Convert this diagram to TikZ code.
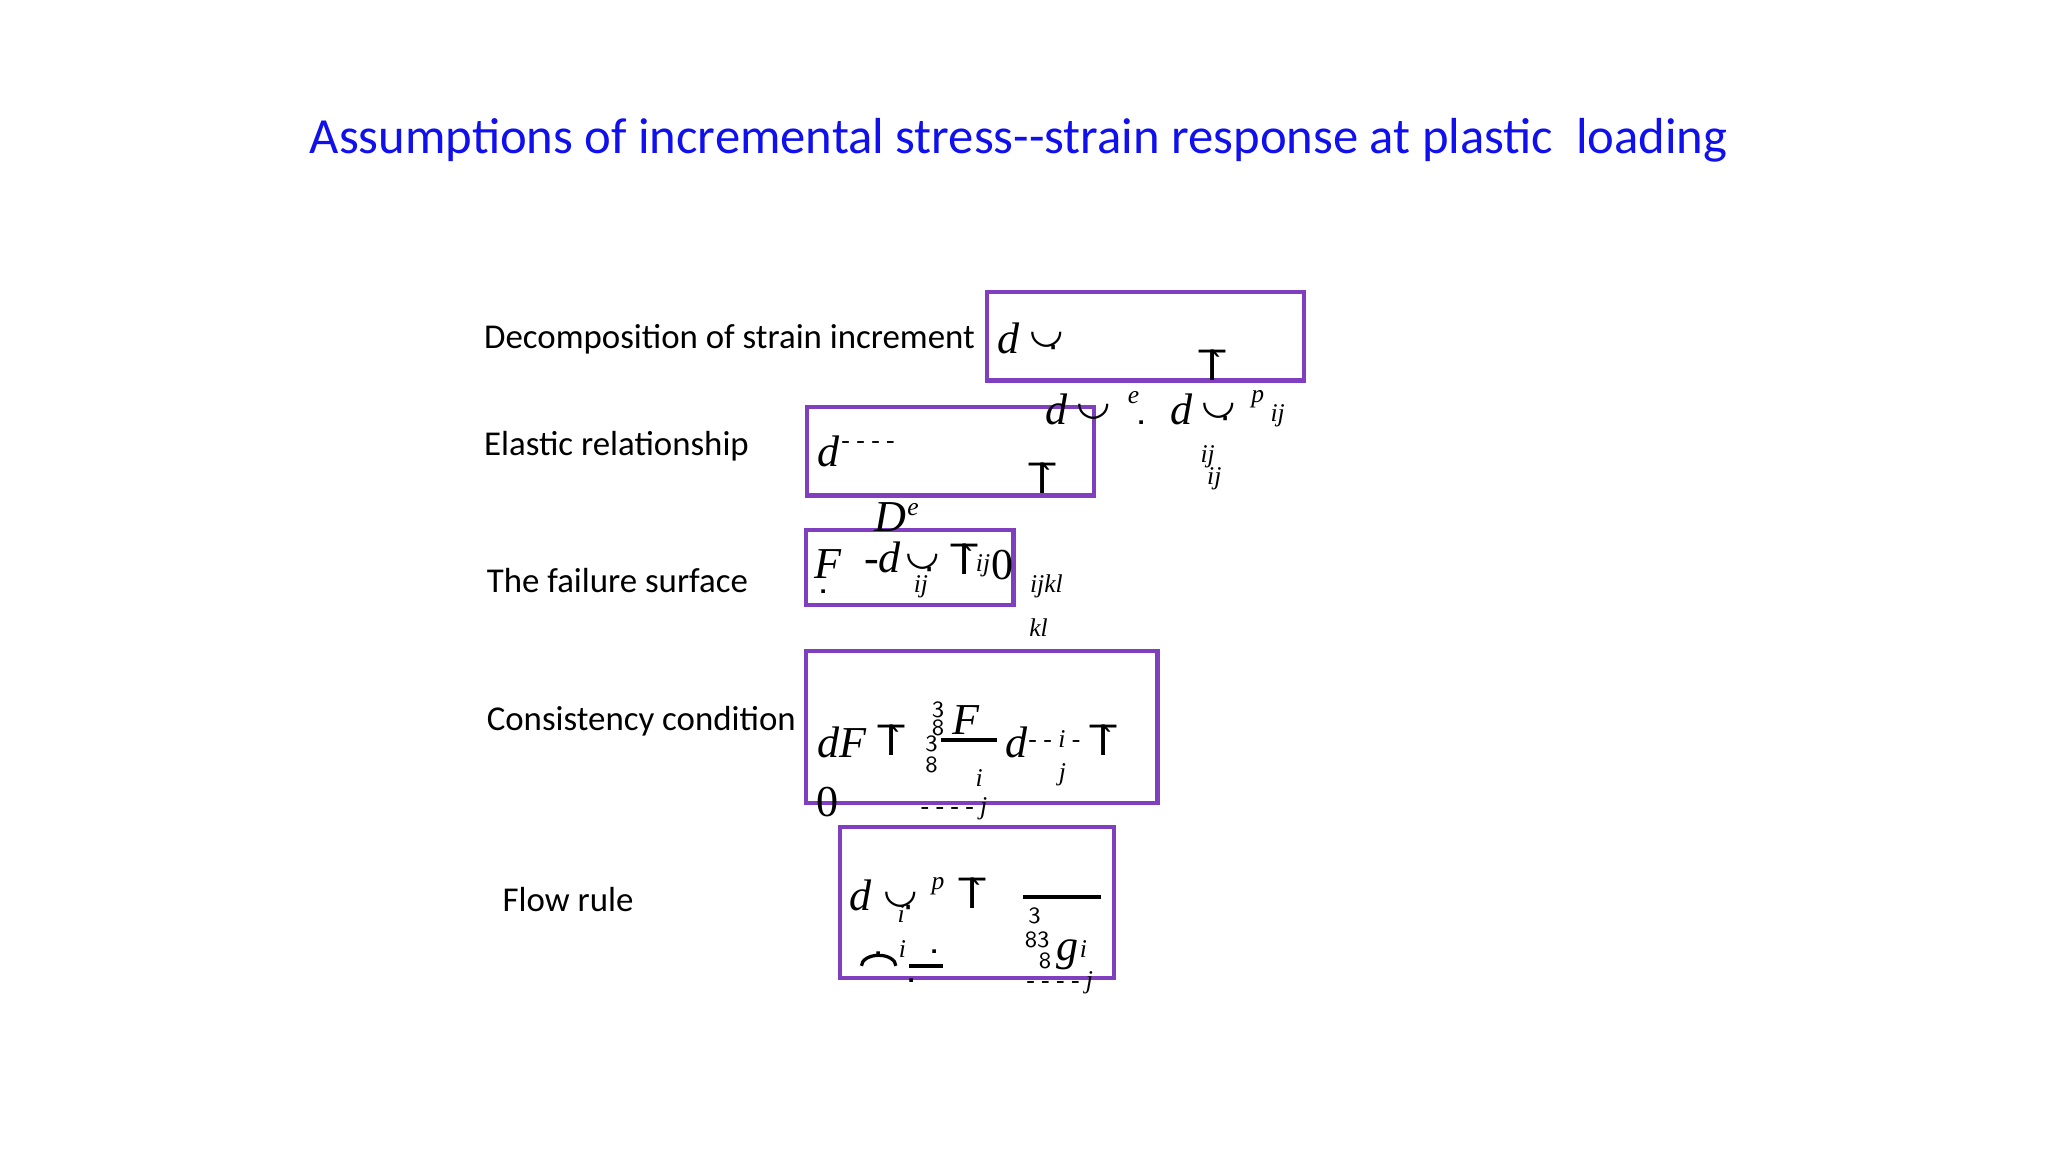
\documentclass[tikz,border=0pt]{standalone}
\usepackage{fontspec}
\setmainfont{Carlito}
\newfontfamily\mser{Liberation Serif}
\newfontfamily\djvs{DejaVu Sans}
\definecolor{bx}{HTML}{7F3FBF}
\definecolor{tb}{HTML}{1010EE}
\tikzset{box/.style={draw=bx,line width=0.9pt},
lab/.style={anchor=west,font=\fontsize{7.5}{9}\selectfont},
m/.style={font=\mser\itshape\fontsize{9.5}{11}\selectfont,inner sep=0pt},
ms/.style={font=\mser\itshape\fontsize{5.5}{6}\selectfont,inner sep=0pt},
tt/.style={font=\sffamily\fontsize{9.5}{11}\selectfont,inner sep=0pt},
sm/.style={font=\djvs\fontsize{8.5}{10}\selectfont,inner sep=0pt}}
\begin{document}
\begin{tikzpicture}[x=0.01cm,y=-0.01cm]
\useasboundingbox (0,0) rectangle (1550,872);
\node[font=\fontsize{10.9}{12}\selectfont,text=tb] (title) at (771,106) {Assumptions of incremental stress-{}-strain response at plastic\ \ loading};
\node[lab] (l1) at (354,257) {Decomposition of strain increment};
\node[lab] (l2) at (354,338) {Elastic relationship};
\node[lab] (l3) at (356,439) {The failure surface};
\node[lab] (l4) at (356,546) {Consistency condition};
\node[lab] (l5) at (368,681) {Flow rule};
\draw[box] (747,221) rectangle (987,288);
\draw[box] (611,308) rectangle (828,375);
\draw[box] (610,401) rectangle (767,458);
\draw[box] (610,493) rectangle (876,608);
\draw[box] (636,626) rectangle (843,740);
% box 1
\node[m] (a1) at (763,256) {d};
\node[sm] (a2) at (792,258) {◡̣};
\node[tt] (a3) at (918,276) {\`T};
\node[m] (a4) at (800,310) {d};
\node[sm] (a5) at (828,312) {◡};
\node[ms] (a6) at (858,301) {e};
\node[tt] (a7) at (864,320) {.};
\node[m] (a8) at (894,310) {d};
\node[sm] (a9) at (922,312) {◡̣};
\node[ms] (a10) at (952,302) {p};
\node[ms] (a11) at (967,315) {ij};
\node[ms] (a12) at (914,346) {ij};
\node[ms] (a13) at (919,362) {ij};
% box 2
\node[m] (b1) at (627,342) {d};
\node[ms] (b2) at (657,337) {- - - -};
\node[tt] (b3) at (789,362) {\`T};
\node[m] (b4) at (674,391) {D};
\node[ms] (b5) at (691,386) {e};
\node[ms] (b6) at (792,444) {ijkl};
\node[ms] (b7) at (786,475) {kl};
% box 3
\node[m] (c1) at (627,427) {F};
\node[tt] (c2) at (623,448) {.};
\node[m] (c3) at (668,422) {-d};
\node[sm] (c4) at (698,426) {◡̣};
\node[ms] (c5) at (697,444) {ij};
\node[tt] (c6) at (730,423) {\`T};
\node[ms] (c7) at (744,428) {ij};
\node[m,font=\mser\fontsize{9.5}{11}\selectfont] (c8) at (759,428) {0};
% box 4
\node[m] (d1) at (637,562) {dF};
\node[tt] (d2) at (675,560) {\`T};
\node[tt,font=\sffamily\fontsize{5}{6}\selectfont] (d3) at (710,537) {3};
\node[tt,font=\sffamily\fontsize{5}{6}\selectfont] (d4) at (710,551) {8};
\node[tt,font=\sffamily\fontsize{5}{6}\selectfont] (d5) at (705,563) {3};
\node[tt,font=\sffamily\fontsize{5}{6}\selectfont] (d6) at (705,579) {8};
\node[m] (d7) at (731,545) {F};
\draw[line width=1pt] (d5.east) ++(2,-3) -- ++(42,0);
\node[ms] (d8) at (741,589) {i};
\node[m] (d9) at (769,562) {d};
\node[ms] (d10) at (798,559) {- - i -};
\node[tt] (d11) at (835,560) {\`T};
\node[ms] (d12) at (804,586) {j};
\node[m,font=\mser\fontsize{9.5}{11}\selectfont] (d13) at (626,607) {0};
\node[ms] (d14) at (722,612) {- - - - j};
% box 5
\node[m] (e1) at (651,678) {d};
\node[sm] (e2) at (682,682) {◡̣};
\node[ms] (e3) at (710,671) {p};
\node[ms] (e4) at (682,692) {i};
\node[tt] (e5) at (736,676) {\`T};
\draw[line width=0.8pt] (774,679) -- (833,679);
\node[tt,font=\sffamily\fontsize{5}{6}\selectfont] (e6) at (783,693) {3};
\node[tt,font=\sffamily\fontsize{5}{6}\selectfont] (e7) at (785,711) {83};
\node[tt,font=\sffamily\fontsize{5}{6}\selectfont] (e8) at (791,727) {8};
\node[m] (e9) at (808,723) {g};
\node[ms] (e10) at (820,718) {i};
\node[ms] (e11) at (802,744) {- - - - j};
\coordinate (arcs) at (652,731);
\draw[line width=0.7pt] (arcs) arc[start angle=180,end angle=0,x radius=13,y radius=-8];
\node[tt] (e12) at (665,722) {.};
\node[ms] (e13) at (683,718) {i};
\node[tt] (e14) at (707,720) {.};
\draw[line width=0.8pt] (688,731) -- (714,731);
\node[tt] (e15) at (690,742) {.};
\end{tikzpicture}
\end{document}
